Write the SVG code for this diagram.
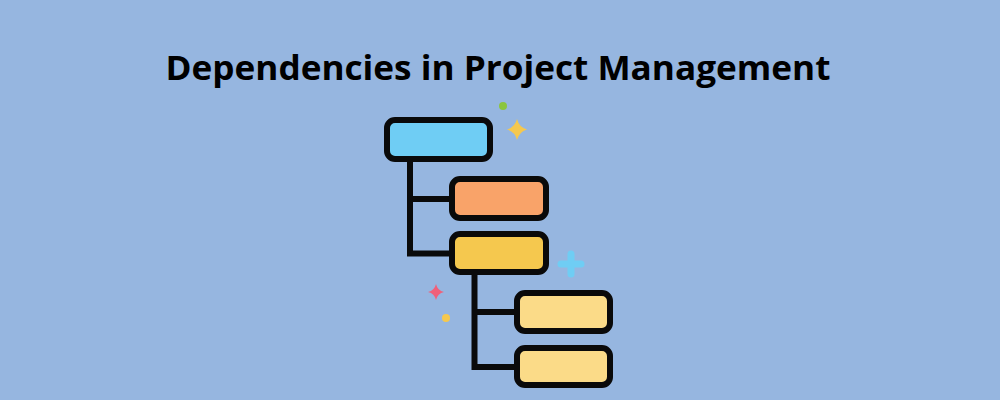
<svg xmlns="http://www.w3.org/2000/svg" width="1000" height="400" viewBox="0 0 1000 400">
<style>
.box{stroke:#0a0a0a;stroke-width:6}
.ln{stroke:#0a0a0a;stroke-width:6;fill:none;stroke-linejoin:miter;stroke-linecap:butt}
.title{font-family:"Open Sans","Liberation Sans",sans-serif;font-weight:700;font-size:34px;fill:#000}
</style>
<rect width="1000" height="400" fill="#96b6e0"/>
<text class="title" x="498" y="80" text-anchor="middle" textLength="665" lengthAdjust="spacingAndGlyphs">Dependencies in Project Management</text>
<g id="connectors">
<path class="ln" d="M410 159 V253.5 H452 M410 199 H452"/>
<path class="ln" d="M474.5 272 V367 H517 M474.5 312 H517"/>
</g>
<g id="node1"><rect class="box" x="387" y="120" width="103" height="39" rx="8" fill="#6fcdf4"/></g>
<g id="node2"><rect class="box" x="452" y="179" width="94" height="39" rx="8" fill="#f9a369"/></g>
<g id="node3"><rect class="box" x="452" y="234" width="94" height="38" rx="8" fill="#f5c84e"/></g>
<g id="node4"><rect class="box" x="517" y="293" width="93" height="38" rx="8" fill="#fbdb88"/></g>
<g id="node5"><rect class="box" x="517" y="348" width="93" height="37" rx="8" fill="#fbdb88"/></g>
<g id="decor">
<circle cx="503" cy="106" r="4" fill="#8bc53f"/>
<path d="M517 119 Q519 127 527 129.5 Q519 132 517 140 Q515 132 507 129.5 Q515 127 517 119Z" fill="#f5c84e"/>
<path d="M571 254 V274 M561 264 H581" stroke="#6fcdf4" stroke-width="7" stroke-linecap="round"/>
<path d="M436 284 Q437.5 290.5 444 292 Q437.5 293.5 436 300 Q434.5 293.5 428 292 Q434.5 290.5 436 284Z" fill="#f0607a"/>
<circle cx="446" cy="318" r="4" fill="#f5c84e"/>
</g>
</svg>
